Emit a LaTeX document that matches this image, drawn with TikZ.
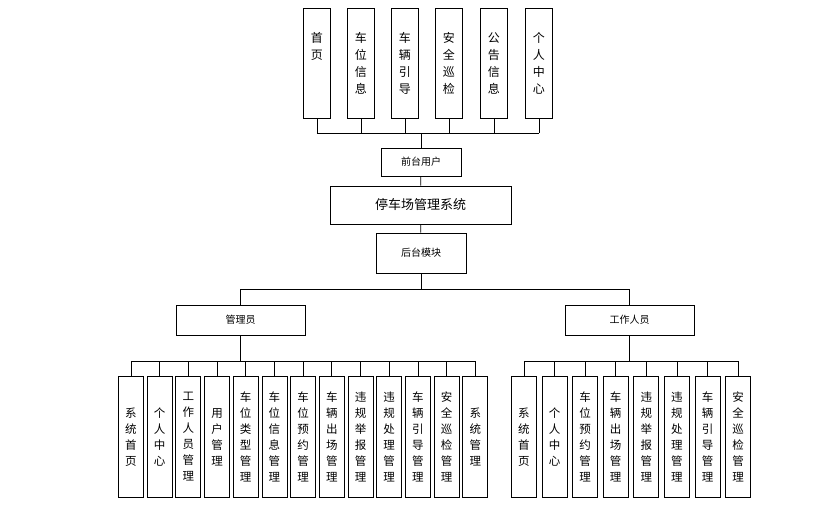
\documentclass[tikz,border=0pt]{standalone}
\usepackage{fontspec}
\newfontfamily\cjk{Noto Sans CJK SC}
\begin{document}
\begin{tikzpicture}[x=1pt,y=-1pt,
  box/.style={draw,thick,inner sep=0pt,font=\cjk\fontsize{10}{12}\selectfont},
  vbox/.style={box,minimum width=25pt,minimum height=121pt,anchor=north west,align=center,font=\cjk\fontsize{11.5}{16}\selectfont},
  tbox/.style={box,minimum width=27pt,minimum height=110pt,anchor=north west,align=center,font=\cjk\fontsize{12}{17}\selectfont},
  ln/.style={thick}]
\useasboundingbox (0,0) rectangle (822,506);
% top
\foreach \x/\t [count=\i] in {303/首\\页\\~\\~,347/车\\位\\信\\息,391/车\\辆\\引\\导,435/安\\全\\巡\\检,480/公\\告\\信\\息,525/个\\人\\中\\心}{
  \node[tbox] (t\i) at (\x,8) {\t};
  \draw[ln] (t\i.south) -- (t\i.south |- 0,133);
}
\draw[ln] (t1.south |- 0,133) -- (t6.south |- 0,133);
\node[box,minimum width=80pt,minimum height=28pt] (fg) at (421,162) {前台用户};
\draw[ln] (fg.north) -- (421,133);
\node[box,minimum width=181pt,minimum height=38pt,font=\cjk\fontsize{13}{15}\selectfont] (sys) at (420.5,205) {停车场管理系统};
\node[box,minimum width=90pt,minimum height=40pt] (hg) at (421,253) {后台模块};
\draw[ln] (fg) -- (sys);
\draw[ln] (sys) -- (hg);
\node[box,minimum width=129pt,minimum height=30pt] (adm) at (240.5,320) {管理员};
\node[box,minimum width=129pt,minimum height=30pt] (wk) at (629.5,320) {工作人员};
\draw[ln] (hg.south) -- (421,289);
\draw[ln] (adm.north) -- (adm.north |- 0,289) -- (wk.north |- 0,289) -- (wk.north);
% admin leaves
\foreach \t [count=\i] in {系\\统\\首\\页,个\\人\\中\\心,工\\作\\人\\员\\管\\理,用\\户\\管\\理,车\\位\\类\\型\\管\\理,车\\位\\信\\息\\管\\理,车\\位\\预\\约\\管\\理,车\\辆\\出\\场\\管\\理,违\\规\\举\\报\\管\\理,违\\规\\处\\理\\管\\理,车\\辆\\引\\导\\管\\理,安\\全\\巡\\检\\管\\理,系\\统\\管\\理}{
  \pgfmathsetmacro\xx{118+(\i-1)*28.7}
  \node[vbox] (a\i) at (\xx,376) {\t};
  \draw[ln] (a\i.north) -- (a\i.north |- 0,361);
}
\draw[ln] (a1.north |- 0,361) -- (a13.north |- 0,361);
\draw[ln] (adm.south) -- (adm.south |- 0,361);
% worker leaves
\foreach \t [count=\i] in {系\\统\\首\\页,个\\人\\中\\心,车\\位\\预\\约\\管\\理,车\\辆\\出\\场\\管\\理,违\\规\\举\\报\\管\\理,违\\规\\处\\理\\管\\理,车\\辆\\引\\导\\管\\理,安\\全\\巡\\检\\管\\理}{
  \pgfmathsetmacro\xx{511+(\i-1)*30.6}
  \node[vbox] (w\i) at (\xx,376) {\t};
  \draw[ln] (w\i.north) -- (w\i.north |- 0,361);
}
\draw[ln] (w1.north |- 0,361) -- (w8.north |- 0,361);
\draw[ln] (wk.south) -- (wk.south |- 0,361);
\end{tikzpicture}
\end{document}
